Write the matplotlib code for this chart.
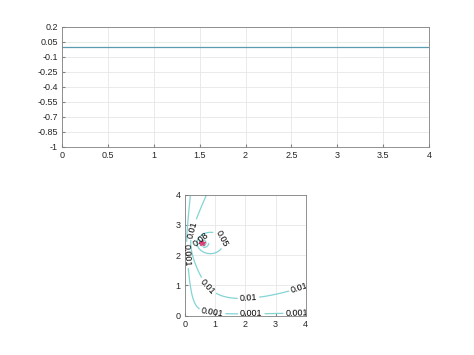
import matplotlib
matplotlib.use("Agg")
import matplotlib.pyplot as plt
import numpy as np

# top panel: flat line at zero
line_x = [0, 4]
line_y = [0, 0]
top_xticks = [0, 0.5, 1, 1.5, 2, 2.5, 3, 3.5, 4]
top_yticks = [-1, -0.85, -0.7, -0.55, -0.4, -0.25, -0.1, 0.05, 0.2]
top_ylabels = ["-1", "-0.85", "-0.7", "-0.55", "-0.4", "-0.25", "-0.1", "0.05", "0.2"]

# bottom panel: plume from a point source in a corner (walls at x=0, y=0)
src_x, src_y = 0.57, 2.4
strength = 0.105
power = 0.4
decay = 0.15
wall_len = 0.75
flow_angle = -10.0  # degrees
levels = [0.001, 0.01, 0.05, 0.08, 0.1]
bot_ticks = [0, 1, 2, 3, 4]

# rough spots where the contour labels sit
label_spots = [(0.9, 0.08), (2.2, 0.05), (3.7, 0.05), (0.05, 2.0),
               (0.25, 2.85), (0.8, 1.0), (2.1, 0.65), (3.7, 1.2),
               (1.3, 2.6), (0.5, 2.55)]

gray = "#808080"
plt.rcParams["font.size"] = 6.5
plt.rcParams["font.family"] = ["Liberation Sans", "DejaVu Sans"]


def kernel(dx, dy):
    r = np.sqrt(dx**2 + dy**2) + 1e-9
    th = np.deg2rad(flow_angle)
    along = dx * np.cos(th) + dy * np.sin(th)
    return r**-power * np.exp(-decay * (r - along))


def style(ax):
    ax.tick_params(direction="in", length=2.5, color=gray, labelcolor="#262626", pad=3)
    for s in ax.spines.values():
        s.set_color(gray)
        s.set_linewidth(0.6)
    ax.grid(True, color="#e6e6e6", linewidth=0.6)
    ax.set_axisbelow(True)


fig = plt.figure(figsize=(4.74, 3.55), dpi=100)

ax1 = fig.add_axes([0.131, 0.586, 0.774, 0.339])
ax1.plot(line_x, line_y, color="#5b9bb0", linewidth=0.9)
ax1.set_xlim(0, 4)
ax1.set_ylim(-1, 0.2)
ax1.set_xticks(top_xticks)
ax1.set_xticklabels([f"{t:g}" for t in top_xticks])
ax1.set_yticks(top_yticks)
ax1.set_yticklabels(top_ylabels)
style(ax1)

ax2 = fig.add_axes([0.390, 0.111, 0.255, 0.341])
gx, gy = np.meshgrid(np.linspace(0, 4, 301), np.linspace(0, 4, 301))
conc = (kernel(gx - src_x, gy - src_y) - kernel(gx - src_x, -(gy + src_y))
        - kernel(-(gx + src_x), gy - src_y) + kernel(-(gx + src_x), -(gy + src_y)))
conc = strength * conc * (1 - np.exp(-gx / wall_len))
cs = ax2.contour(gx, gy, conc, levels=levels, colors="#84d4d4", linewidths=0.9)
ax2.clabel(cs, fmt="%g", fontsize=6.5, colors="k", manual=label_spots, inline_spacing=2)
ax2.plot(src_x, src_y, marker="*", color="#e0407a", markersize=4)
ax2.set_xlim(0, 4)
ax2.set_ylim(0, 4)
ax2.set_xticks(bot_ticks)
ax2.set_yticks(bot_ticks)
style(ax2)

fig.savefig("out.png", dpi=100)
